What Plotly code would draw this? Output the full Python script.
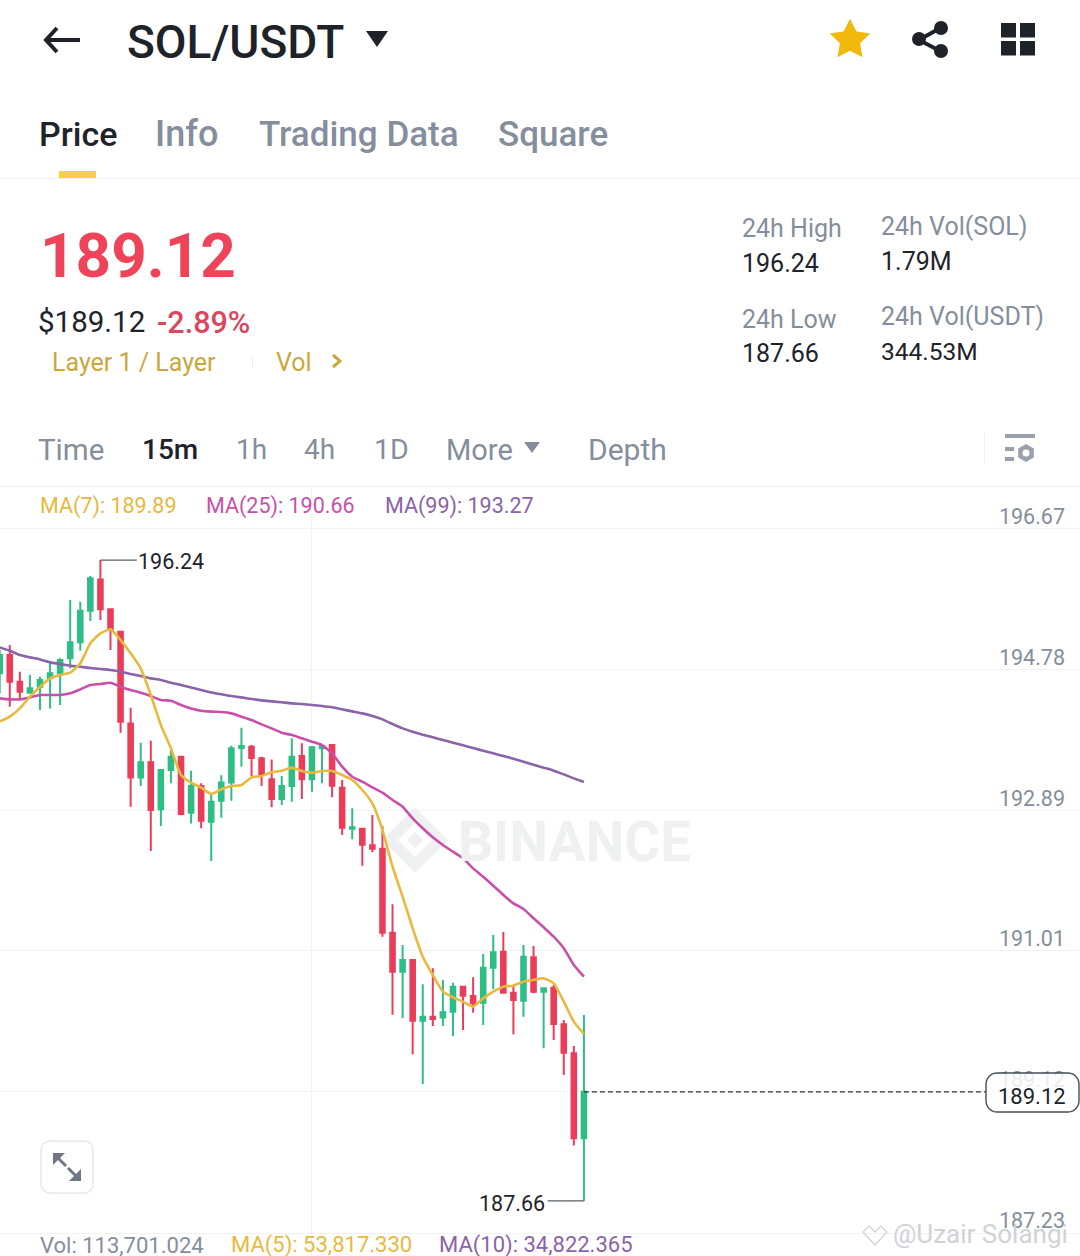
import math
import plotly.graph_objects as go

# ---------- data ----------
opens = [194.724,194.969,194.612,194.465,194.545,194.657,194.724,194.925,195.139,195.563,195.982,195.581,195.282,194.054,193.331,193.532,192.903,193.430,193.608,192.858,193.215,192.738,193.019,193.264,193.724,193.742,193.586,193.305,193.041,193.215,193.617,193.305,193.720,193.764,193.193,192.644,192.644,192.421,192.376,191.252,190.729,190.886,190.073,190.127,190.114,190.194,190.529,190.404,190.314,190.783,190.997,190.448,190.341,190.921,190.462,190.515,190.024,189.636,188.498]
highs = [195.036,195.103,194.746,194.702,194.679,194.858,194.925,195.706,195.683,196.027,196.241,195.581,195.282,194.264,193.796,193.822,193.430,193.697,193.617,193.421,193.251,193.095,193.358,193.755,193.996,193.764,193.608,193.572,193.349,193.854,193.787,193.751,193.764,193.773,193.296,192.916,192.644,192.827,192.680,191.631,191.087,190.886,190.560,190.774,190.618,190.582,190.529,190.654,190.966,191.220,191.261,190.551,191.087,191.073,190.515,190.551,190.082,189.734,190.149]
lows = [194.456,194.277,194.389,194.456,194.233,194.255,194.300,194.791,195.027,195.424,195.438,195.036,193.929,192.939,193.215,192.345,192.680,193.251,192.823,192.715,192.649,192.211,192.791,193.019,193.474,193.349,193.215,192.930,192.961,193.006,193.041,193.139,193.251,193.064,192.559,192.501,192.149,192.327,191.198,190.154,190.105,189.623,189.225,190.002,190.002,189.868,189.948,190.180,190.015,190.493,190.448,189.890,190.127,190.439,189.703,189.815,189.346,188.400,187.660]
closes = [194.969,194.612,194.478,194.523,194.635,194.724,194.902,195.139,195.563,195.996,195.581,195.304,194.077,193.331,193.532,192.894,193.430,193.608,192.840,193.215,192.751,193.006,193.264,193.720,193.751,193.590,193.363,193.041,193.215,193.608,193.305,193.733,193.751,193.220,192.657,192.662,192.430,192.376,191.252,190.729,190.886,190.073,190.127,190.096,190.185,190.529,190.408,190.305,190.783,190.988,190.448,190.350,190.930,190.462,190.506,190.029,189.645,188.498,189.120]
ma7 = [194.077,194.144,194.255,194.411,194.545,194.657,194.702,194.733,194.858,195.126,195.259,195.313,195.170,194.992,194.791,194.434,194.032,193.720,193.363,193.260,193.193,193.108,193.171,193.215,193.229,193.331,193.349,193.398,193.421,193.461,193.416,193.394,193.416,193.416,193.363,193.296,193.162,192.983,192.626,192.135,191.734,191.310,190.930,190.685,190.462,190.386,190.328,190.261,190.372,190.462,190.529,190.542,190.596,190.618,190.640,190.573,190.328,190.060,189.895]
ma25 = [194.389,194.376,194.376,194.402,194.434,194.434,194.434,194.456,194.510,194.568,194.581,194.599,194.545,194.501,194.465,194.420,194.367,194.358,194.300,194.255,194.224,194.211,194.206,194.188,194.144,194.099,194.041,193.987,193.929,193.898,193.854,193.809,193.764,193.653,193.474,193.340,193.273,193.197,193.126,193.028,192.939,192.782,192.649,192.528,192.425,192.336,192.247,192.113,192.001,191.881,191.756,191.644,191.569,191.444,191.323,191.198,191.042,190.819,190.662]
ma99 = [195.072,195.027,194.969,194.938,194.911,194.871,194.849,194.826,194.813,194.795,194.782,194.768,194.746,194.715,194.688,194.657,194.635,194.599,194.568,194.536,194.501,194.469,194.443,194.420,194.402,194.380,194.362,194.349,194.336,194.322,194.313,194.300,194.286,194.269,194.242,194.215,194.188,194.153,194.108,194.045,193.987,193.943,193.903,193.867,193.831,193.796,193.760,193.724,193.688,193.653,193.617,193.581,193.541,193.501,193.461,193.421,193.371,193.318,193.269]
candle_index = list(range(len(opens)))
price_ticks = [196.67, 194.78, 192.89, 191.01, 189.12, 187.23]
price_tick_labels = ["196.67", "194.78", "192.89", "191.01", "189.12", "187.23"]
high_price, low_price, last_price = 196.24, 187.66, 189.12
high_idx, low_idx, last_idx = 10, 58, 58

# ---------- palette ----------
DARK, GREY = "#1e2329", "#848e9c"
GREEN, RED = "#2ebd85", "#ea3d5a"
YEL, PINK, PURP = "#e8b93c", "#c850ab", "#8a63a8"
GOLD, GRID = "#c9a83c", "#f1f2f3"
FONT = "Roboto"
W, H = 1080, 1256

def fx(x): return x / W
def fy(y): return 1 - y / H

anns, shapes = [], []

def text(x, y, s, size, color, anchor="left", weight=400, font=FONT):
    anns.append(dict(xref="paper", yref="paper", x=fx(x), y=fy(y), text=s, showarrow=False,
                     xanchor=anchor, yanchor="middle", borderpad=0, borderwidth=0,
                     font=dict(family=font, size=size, color=color, weight=weight)))

def path(points, fill=None, line=None, lw=0, close=True, layer="above"):
    d = "M" + " L".join(f"{fx(a):.5f},{fy(b):.5f}" for a, b in points) + (" Z" if close else "")
    shapes.append(dict(type="path", xref="paper", yref="paper", path=d, fillcolor=fill or "rgba(0,0,0,0)",
                       line=dict(color=line or "rgba(0,0,0,0)", width=lw), layer=layer))

def rect(x0, y0, x1, y1, fill, layer="above"):
    shapes.append(dict(type="rect", xref="paper", yref="paper", x0=fx(x0), x1=fx(x1), y0=fy(y1), y1=fy(y0),
                       fillcolor=fill, line=dict(width=0), layer=layer))

def circle(cx, cy, r, fill):
    shapes.append(dict(type="circle", xref="paper", yref="paper", x0=fx(cx - r), x1=fx(cx + r),
                       y0=fy(cy + r), y1=fy(cy - r), fillcolor=fill, line=dict(width=0)))

def rrect(x0, y0, x1, y1, r, fill, line, lw):
    pts = []
    for cx, cy, a0 in ((x1 - r, y0 + r, -90), (x1 - r, y1 - r, 0), (x0 + r, y1 - r, 90), (x0 + r, y0 + r, 180)):
        for k in range(7):
            a = math.radians(a0 + k * 15)
            pts.append((cx + r * math.cos(a), cy + r * math.sin(a)))
    path(pts, fill=fill, line=line, lw=lw)

# ---------- header ----------
path([(46, 40), (80, 40)], line=DARK, lw=4, close=False)
path([(57, 28), (46, 40), (57, 52)], line=DARK, lw=4, close=False)
text(127, 42, "SOL/USDT", 46, DARK, weight=500)
path([(366, 31), (388, 31), (377, 47)], fill=DARK)
star = []
for k in range(10):
    r = 19 if k % 2 == 0 else 9.5
    a = math.radians(-90 + 36 * k)
    star.append((850 + r * math.cos(a), 40 + r * math.sin(a)))
path(star, fill="#f0b90b", line="#f0b90b", lw=2)
path([(942, 27), (919, 40), (942, 52)], line=DARK, lw=4, close=False)
circle(919, 39, 7, DARK); circle(941, 28, 7, DARK); circle(941, 51, 7, DARK)
for (a, b) in ((1001, 23), (1020, 23), (1001, 41), (1020, 41)):
    rect(a, b, a + 15, b + 14.5, DARK)

text(39, 134, "Price", 34, DARK, weight=500)
text(155, 134, "Info", 36, GREY, weight=500)
text(259, 134, "Trading Data", 35, GREY, weight=500)
text(498, 134, "Square", 35, GREY, weight=500)
rect(59, 171, 96, 178, "#f5d142")
rect(0, 178, 1080, 179, "#eeeff1")

text(40, 255, "189.12", 62, "#ee4358", weight=700)
text(38, 322, "$189.12", 29.5, DARK)
text(157, 322, "-2.89%", 30.5, "#d9485f", weight=500)
text(52, 362, "Layer 1 / Layer", 25, GOLD)
rect(252, 356, 253, 367, "#eeeeee")
text(276, 362, "Vol", 25, GOLD)
path([(333, 355), (340, 361), (333, 367)], line=GOLD, lw=3, close=False)

text(742, 229, "24h High", 25, GREY)
text(881, 226, "24h Vol(SOL)", 25, GREY)
text(742, 263, "196.24", 25, DARK)
text(881, 261, "1.79M", 25, DARK)
text(742, 319, "24h Low", 25, GREY)
text(881, 316, "24h Vol(USDT)", 25, GREY)
text(742, 353, "187.66", 25, DARK)
text(881, 351, "344.53M", 24.5, DARK)

text(38, 450, "Time", 29.5, GREY)
text(142, 450, "15m", 28, DARK, weight=500)
text(236, 450, "1h", 28, GREY)
text(304, 450, "4h", 28, GREY)
text(374, 450, "1D", 28.5, GREY)
text(446, 450, "More", 29, GREY)
path([(524, 442), (540, 442), (532, 453)], fill=GREY)
text(588, 450, "Depth", 30, GREY)
rect(984, 433, 985, 463, "#eeeff1")
rect(1005, 434, 1035, 438, "#9aa1ac")
rect(1005, 447, 1014, 451, "#9aa1ac")
rect(1005, 457, 1014, 461, "#9aa1ac")
hexa = [(1026 + 9 * math.cos(math.radians(30 + 60 * k)), 453 + 9 * math.sin(math.radians(30 + 60 * k))) for k in range(6)]
path(hexa, fill="#9aa1ac")
circle(1026, 453, 3.5, "#ffffff")
rect(0, 486, 1080, 487, "#eeeff1")

text(40, 506, "MA(7): 189.89", 21.5, YEL)
text(206, 506, "MA(25): 190.66", 21.5, PINK)
text(385, 506, "MA(99): 193.27", 21.5, PURP)

# ---------- watermark ----------
path([(415, 815), (440, 840), (415, 865), (390, 840)], line="#eff0f1", lw=11, layer="below")
path([(415, 832), (423, 840), (415, 848), (407, 840)], fill="#eff0f1", layer="below")
text(458, 842, "BINANCE", 55, "#eff0f1", weight=700)

# ---------- price chart ----------
fig = go.Figure()
fig.add_trace(go.Candlestick(
    x=candle_index, open=opens, high=highs, low=lows, close=closes, whiskerwidth=0,
    increasing=dict(line=dict(color=GREEN, width=2), fillcolor=GREEN),
    decreasing=dict(line=dict(color=RED, width=2), fillcolor=RED),
))
for vals, col in ((ma99, PURP), (ma25, PINK), (ma7, YEL)):
    fig.add_trace(go.Scatter(x=candle_index, y=vals, mode="lines",
                             line=dict(color=col, width=2.6, shape="spline", smoothing=0.5)))
fig.add_trace(go.Scatter(x=[last_idx, 97.9], y=[last_price, last_price], mode="lines",
                         line=dict(color="#2b3036", width=1.2, dash="5px,3px")))

# high / low pointers
for idx, price, xe in ((high_idx, high_price, 13.6), (low_idx, low_price, 54.4)):
    shapes.append(dict(type="line", xref="x", yref="y", x0=idx, x1=xe, y0=price, y1=price,
                       line=dict(color="#5a5f66", width=1.2)))
anns.append(dict(xref="x", yref="y", x=13.65, y=high_price, text=f"{high_price:.2f}", showarrow=False, xanchor="left",
                 yanchor="middle", yshift=-1, borderpad=0, font=dict(family=FONT, size=21.5, color=DARK)))
anns.append(dict(xref="x", yref="y", x=54.2, y=low_price, text=f"{low_price:.2f}", showarrow=False, xanchor="right",
                 yanchor="middle", yshift=-3, borderpad=0, font=dict(family=FONT, size=21.5, color=DARK)))

# last-price tag
rrect(986, 1073, 1079, 1112, 11, "rgba(255,255,255,0.82)", "#474d57", 1.4)
text(1066, 1096, f"{last_price:.2f}", 22, DARK, anchor="right")

# expand button
rrect(41, 1141, 93, 1193, 9, "#ffffff", "#e6e8ea", 1.5)
path([(53, 1153), (65, 1153), (53, 1165)], fill="#6f7785")
path([(81, 1181), (69, 1181), (81, 1169)], fill="#6f7785")
path([(55, 1155), (66, 1166)], line="#6f7785", lw=3, close=False)
path([(79, 1179), (68, 1168)], line="#6f7785", lw=3, close=False)

# volume row
text(40, 1245, "Vol: 113,701.024", 22, GREY)
text(231, 1245, "MA(5): 53,817.330", 22, YEL)
text(439, 1245, "MA(10): 34,822.365", 22, PURP)

# photographer watermark
text(893, 1234, "@Uzair Solangi", 26, "#cfd2d6")
path([(863, 1232), (875, 1245), (887, 1232), (881, 1226), (875, 1232), (869, 1226)], line="#cfd2d6", lw=1.2)

fig.update_layout(
    width=W, height=H, margin=dict(l=0, r=0, t=0, b=0), paper_bgcolor="#ffffff", plot_bgcolor="#ffffff",
    showlegend=False, boxgap=0.35, annotations=anns, shapes=shapes, hovermode=False,
    xaxis=dict(range=[0.03, 107.25], rangeslider=dict(visible=False), tickvals=[31], showticklabels=False,
               showgrid=True, gridcolor=GRID, gridwidth=1, zeroline=False, showline=False, ticks=""),
    yaxis=dict(domain=[0, 1 - 488 / H], range=[186.922, 197.206], side="right", tickvals=price_ticks,
               ticktext=price_tick_labels, ticklabelposition="inside top", ticklabelstandoff=12,
               ticklabelshift=3, tickfont=dict(family=FONT, size=21.5, color=GREY), showgrid=True,
               gridcolor=GRID, gridwidth=1, zeroline=False, showline=False, ticks=""),
)
fig.write_html("out.html", config={"displayModeBar": False},
               post_script="document.body.style.margin='0';document.body.style.overflow='hidden';")
